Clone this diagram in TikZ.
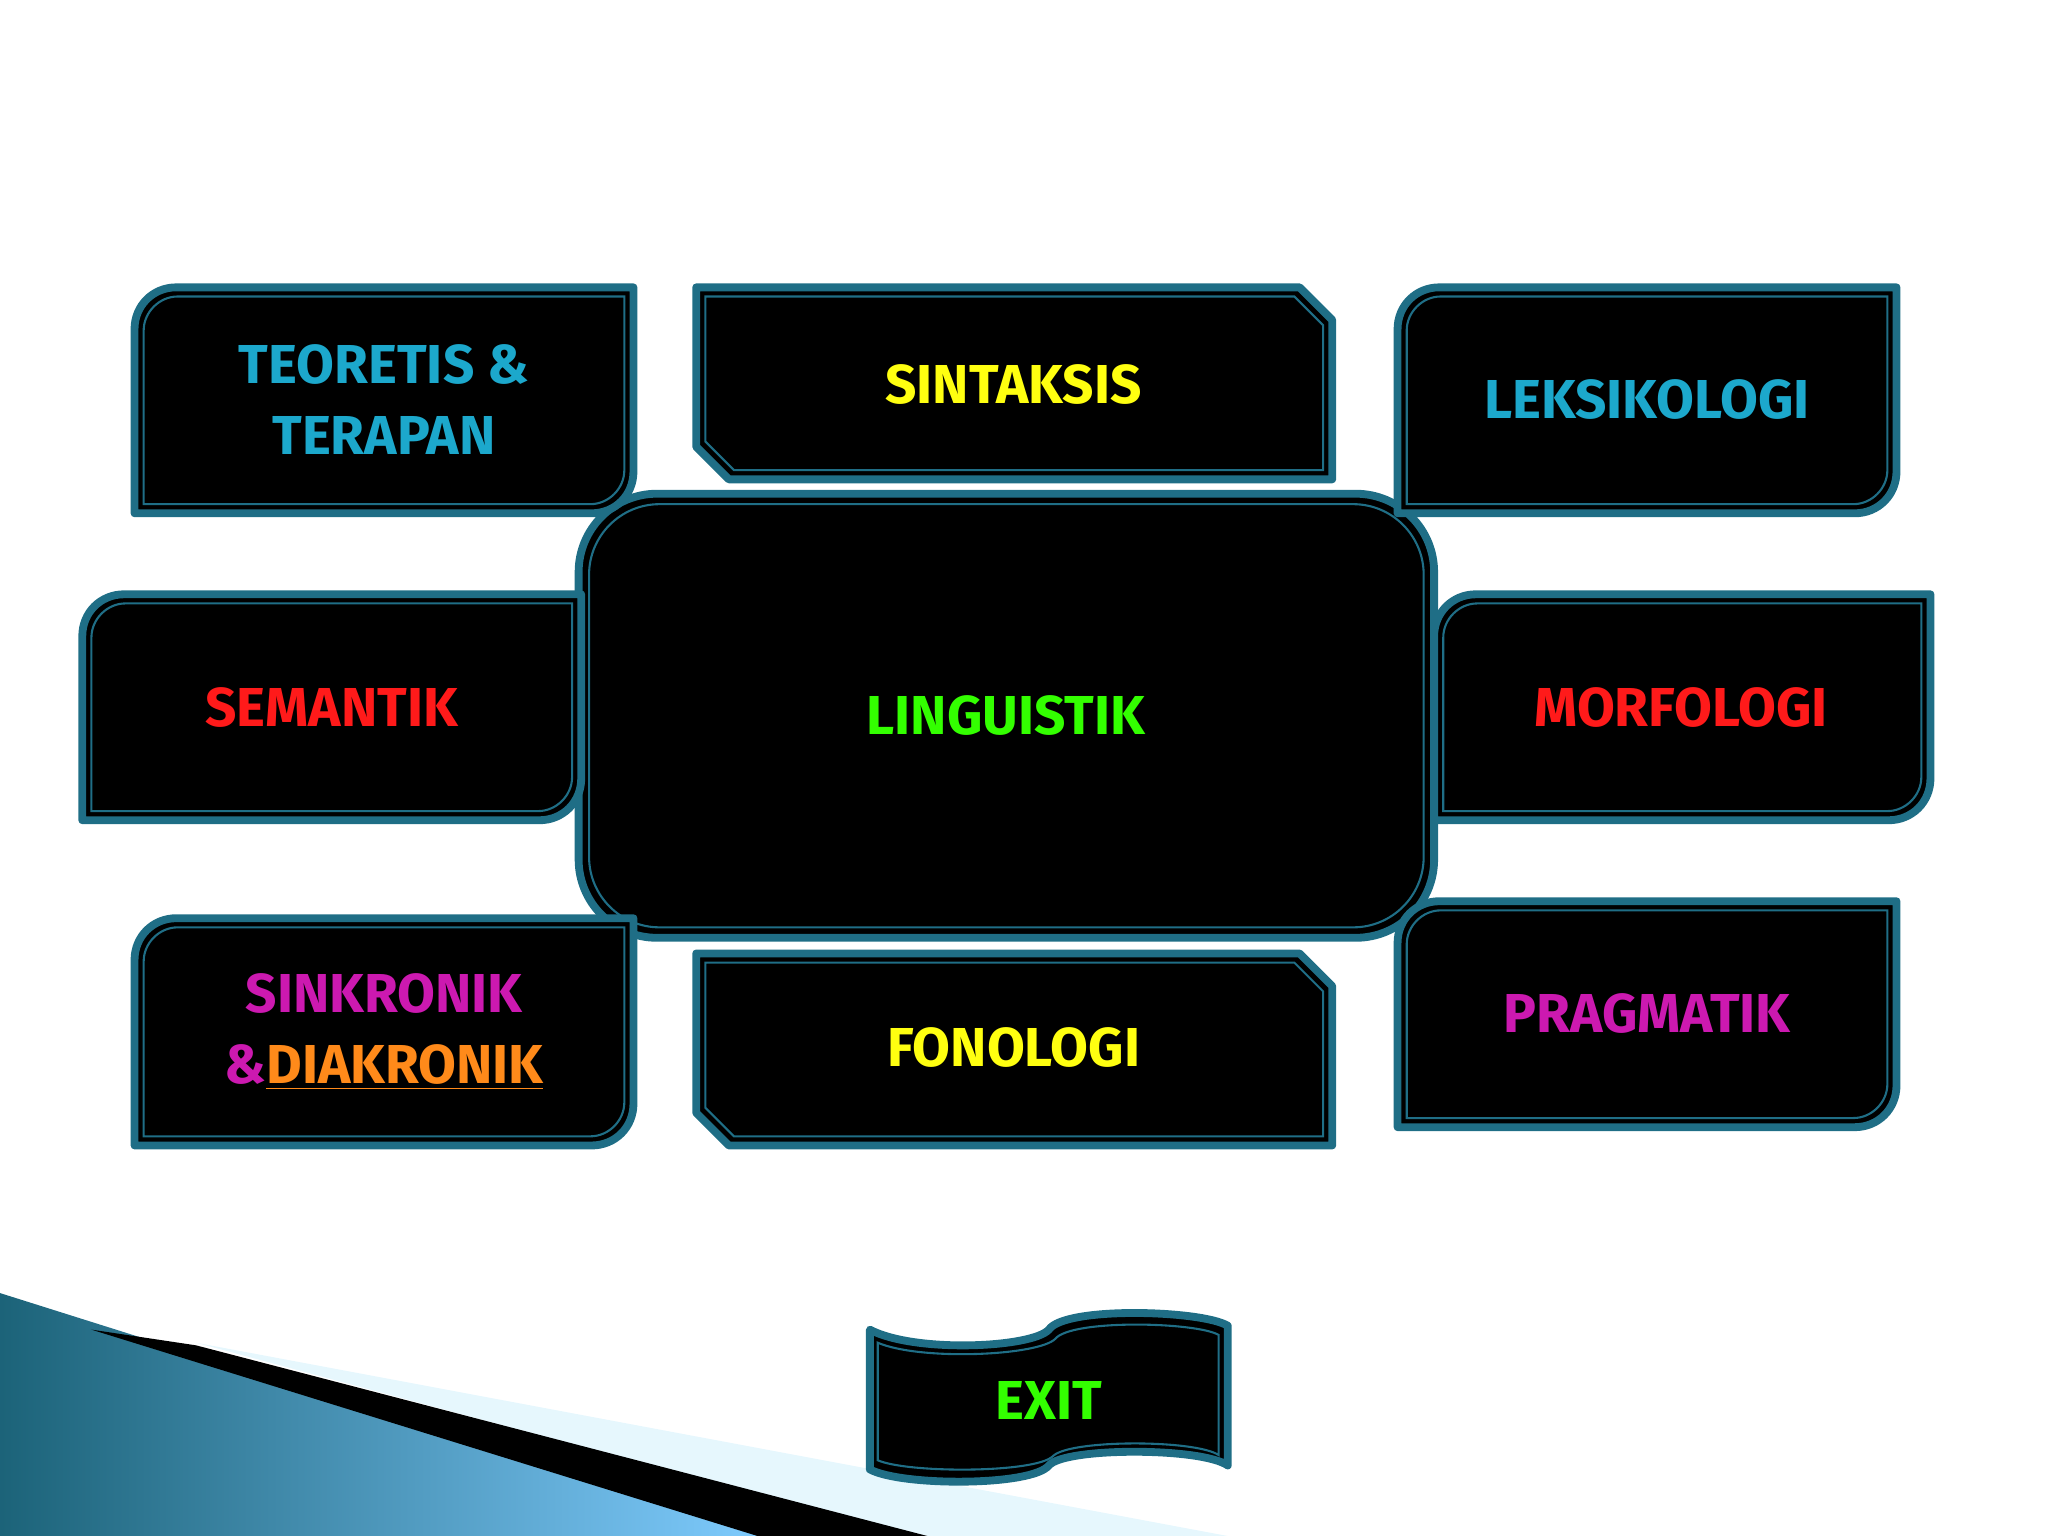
\documentclass[tikz,border=0pt]{standalone}
\usepackage{fontspec}
\setmainfont{Fira Sans}
\definecolor{edge}{HTML}{1F6E86}
\definecolor{tcyan}{HTML}{1CA8CC}
\definecolor{tyel}{HTML}{FFFF10}
\definecolor{tred}{HTML}{FF1A1A}
\definecolor{tgreen}{HTML}{33FF00}
\definecolor{tmag}{HTML}{CC19B0}
\definecolor{torange}{HTML}{FF8A1A}
\newcommand\rbox[4]{%
 \path[outer] (#1,#4) -- ({#1},{#2+32}) .. controls ({#1},{#2+14}) and ({#1+14},{#2}) .. ({#1+32},#2) -- (#3,#2) -- ({#3},{#4-32}) .. controls ({#3},{#4-14}) and ({#3-14},{#4}) .. ({#3-32},#4) -- cycle;
 \draw[inner] ({#1+7},{#4-7}) -- ({#1+7},{#2+33}) .. controls ({#1+7},{#2+19}) and ({#1+19},{#2+7}) .. ({#1+33},{#2+7}) -- ({#3-7},{#2+7}) -- ({#3-7},{#4-33}) .. controls ({#3-7},{#4-19}) and ({#3-19},{#4-7}) .. ({#3-33},{#4-7}) -- cycle;}
\newcommand\cbox[4]{%
 \path[outer] (#1,#2) -- ({#3-25},#2) -- ({#3},{#2+25}) -- (#3,#4) -- ({#1+25},#4) -- ({#1},{#4-25}) -- cycle;
 \draw[inner] ({#1+7},{#2+7}) -- ({#3-29},{#2+7}) -- ({#3-7},{#2+29}) -- ({#3-7},{#4-7}) -- ({#1+29},{#4-7}) -- ({#1+7},{#4-29}) -- cycle;}
\tikzset{outer/.style={fill=black,draw=edge,line width=3pt,line join=round},
 inner/.style={draw=edge,line width=0.8pt},
 lbl/.style={font=\fontsize{21}{27}\selectfont\bfseries,align=center}}
\begin{document}
\begin{tikzpicture}[x=0.5pt,y=-0.5pt]
\useasboundingbox (0,0) rectangle (1568,1176);
% bottom-left decoration
\shade[left color=edge!90!black,right color=cyan!60!blue!50] (0,990) -- (590,1176) -- (0,1176) -- cycle;
\fill[cyan!10!white] (150,1028) -- (940,1176) -- (700,1176) -- cycle;
\fill[black] (70,1018) -- (150,1030) -- (710,1176) -- (580,1176) -- cycle;
% center
\path[outer,rounded corners=30pt] (443,378) rectangle (1098,718);
\draw[inner,rounded corners=27pt] (451,386) rectangle (1090,710);
\node[lbl,text=tgreen] (ling) at (770,548) {LINGUISTIK};
\rbox{103}{220}{485}{393}
\node[lbl,text=tcyan] (teo) at (294,306) {TEORETIS \&\\TERAPAN};
\cbox{533}{220}{1020}{367}
\node[lbl,text=tyel] (sin) at (776,294) {SINTAKSIS};
\rbox{1070}{220}{1452}{393}
\node[lbl,text=tcyan] (lek) at (1261,306) {LEKSIKOLOGI};
\rbox{63}{455}{445}{628}
\node[lbl,text=tred] (sem) at (254,542) {SEMANTIK};
\rbox{1098}{455}{1478}{628}
\node[lbl,text=tred] (mor) at (1287,542) {MORFOLOGI};
\rbox{103}{703}{485}{877}
\node[lbl,text=tmag] (sink) at (294,790) {SINKRONIK\\\&\textcolor{torange}{\underline{DIAKRONIK}}};
\cbox{533}{730}{1020}{877}
\node[lbl,text=tyel] (fon) at (776,802) {FONOLOGI};
\rbox{1070}{690}{1452}{863}
\node[lbl,text=tmag] (prag) at (1261,776) {PRAGMATIK};
% exit banner
\path[outer] (666,1018) .. controls (700,1036) and (790,1032) .. (803,1018) .. controls (815,1000) and (920,1003) .. (940,1015) -- (940,1122) .. controls (920,1108) and (815,1108) .. (803,1122) .. controls (790,1138) and (690,1138) .. (666,1125) -- cycle;
\draw[inner] (672,1028) .. controls (705,1042) and (795,1038) .. (808,1025) .. controls (820,1010) and (915,1012) .. (933,1022) -- (933,1114) .. controls (915,1102) and (818,1102) .. (806,1115) .. controls (792,1128) and (695,1128) .. (672,1118) -- cycle;
\node[lbl,text=tgreen] (exit) at (803,1072) {EXIT};
\end{tikzpicture}
\end{document}
